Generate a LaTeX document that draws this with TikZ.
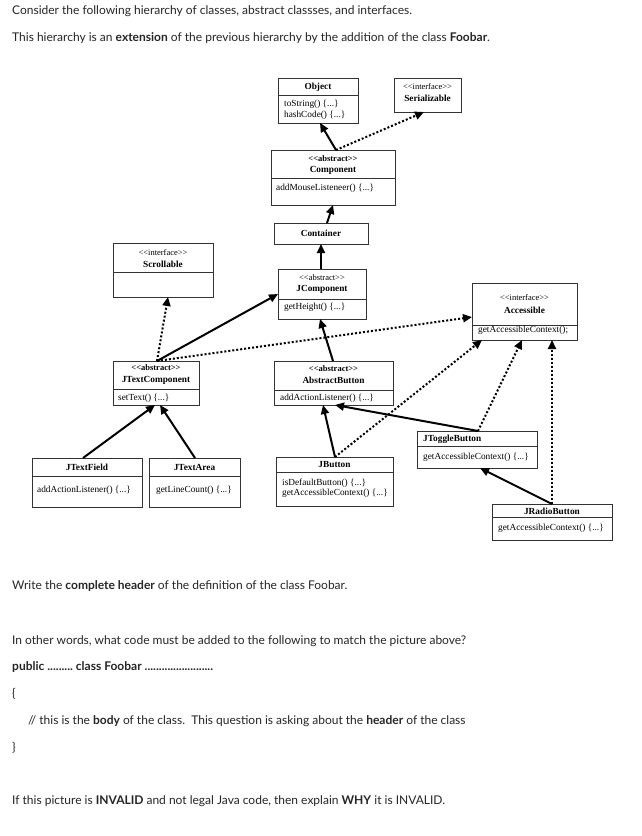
\documentclass[tikz,border=0pt]{standalone}
\usepackage{fontspec}
\setmainfont{Lato}
\newfontfamily\uml[Ligatures=TeXOff]{Liberation Serif}
\usetikzlibrary{arrows.meta,calc}
\tikzset{
 box/.style={draw=black!80, line width=0.8pt, inner sep=0pt, outer sep=0pt, anchor=north west},
 divline/.style={draw=black!80, line width=0.8pt},
 lbl/.style={inner sep=0pt, anchor=west, font=\uml\fontsize{9.3}{10}\selectfont},
 ttl/.style={inner sep=0pt, font=\uml\bfseries\fontsize{9.3}{10}\selectfont},
 ster/.style={inner sep=0pt, font=\uml\fontsize{8.5}{9}\selectfont},
 bster/.style={inner sep=0pt, font=\uml\bfseries\fontsize{8.5}{9}\selectfont},
 inh/.style={line width=2pt, -{Triangle[length=9pt,width=8pt]}},
 impl/.style={line width=2pt, dash pattern=on 2pt off 2pt, -{Triangle[length=9pt,width=8pt]}},
 body/.style={inner sep=0pt, anchor=base west, text=black!85, font=\fontsize{12}{14}\selectfont},
}
\newcommand\umlbox[5]{\node[box, minimum width={#4pt-#2pt}, minimum height={#5pt-#3pt}] (#1) at (#2,#3) {};}
\newcommand\umldiv[3]{\draw[divline] (#1,#3) -- (#2,#3);}
\begin{document}
\begin{tikzpicture}[x=1pt,y=-1pt]
\useasboundingbox[fill=white] (0,0) rectangle (642,836);

% Boxes
\umlbox{obj}{278}{78}{358}{123}\umldiv{278}{358}{95}
\node[ttl] (objt) at (318,87) {Object};
\node[lbl] (objm1) at (284,104) {toString() \{...\}};
\node[lbl] (objm2) at (284,115) {hashCode() \{...\}};

\umlbox{ser}{394}{78}{461}{112}
\node[ster] (sers) at (427.5,87) {<<interface>>};
\node[ttl] (sert) at (427.5,98) {Serializable};

\umlbox{comp}{271}{150}{395}{205}\umldiv{271}{395}{178}
\node[bster] (comps) at (333,159) {<<abstract>>};
\node[ttl] (compt) at (333,170) {Component};
\node[lbl] (compm) at (276,188) {addMouseListeneer() \{...\}};

\umlbox{cont}{274}{223}{368}{244}
\node[ttl] (contt) at (321,233) {Container};

\umlbox{scr}{113}{243}{213}{297}\umldiv{113}{213}{272}
\node[ster] (scrs) at (163,253) {<<interface>>};
\node[ttl] (scrt) at (163,264) {Scrollable};

\umlbox{jcomp}{278}{269}{366}{319}\umldiv{278}{366}{299}
\node[ster] (jcomps) at (322,278) {<<abstract>>};
\node[ttl] (jcompt) at (322,289) {JComponent};
\node[lbl] (jcompm) at (284,307) {getHeight() \{...\}};

\umlbox{acc}{472}{283}{577}{340}\umldiv{472}{577}{325}
\node[ster] (accs) at (524.5,298) {<<interface>>};
\node[ttl] (acct) at (524.5,310) {Accessible};
\node[lbl] (accm) at (478,330.5) {getAccessibleContext();};

\umlbox{jtc}{113}{361}{199}{405}\umldiv{113}{199}{389}
\node[bster] (jtcs) at (156,368) {<<abstract>>};
\node[ttl] (jtct) at (156,380) {JTextComponent};
\node[lbl] (jtcm) at (118,398) {setText() \{...\}};

\umlbox{ab}{274}{361}{393}{405}\umldiv{274}{393}{390}
\node[bster] (abs) at (333.5,369) {<<abstract>>};
\node[ttl] (abt) at (333.5,380) {AbstractButton};
\node[lbl] (abm) at (280,398) {addActionListener() \{...\}};

\umlbox{jtb}{417}{431}{537}{468}\umldiv{417}{537}{446}
\node[ttl, anchor=west] (jtbt) at (423,439.5) {JToggleButton};
\node[lbl] (jtbm) at (423,457) {getAccessibleContext() \{...\}};

\umlbox{jtf}{32}{458}{142}{507}\umldiv{32}{142}{476}
\node[ttl] (jtft) at (87,467) {JTextField};
\node[lbl] (jtfm) at (37,490) {addActionListener() \{...\}};

\umlbox{jta}{149}{458}{240}{507}\umldiv{149}{240}{476}
\node[ttl] (jtat) at (194.5,467) {JTextArea};
\node[lbl] (jtam) at (156,490) {getLineCount() \{...\}};

\umlbox{jb}{276}{457}{393}{506}\umldiv{276}{393}{472}
\node[ttl] (jbt) at (334.5,465) {JButton};
\node[lbl] (jbm1) at (282,483) {isDefaultButton() \{...\}};
\node[lbl] (jbm2) at (282,493) {getAccessibleContext() \{...\}};

\umlbox{jrb}{492}{504}{612}{540}\umldiv{492}{612}{517}
\node[ttl] (jrbt) at (552,511) {JRadioButton};
\node[lbl] (jrbm) at (498,528) {getAccessibleContext() \{...\}};

% Connectors
\draw[inh] ($(comp.north west)+(65,0)$) -- ($(obj.south west)+(42,0)$);
\draw[impl] ($(comp.north west)+(65,0)$) -- ($(ser.south west)+(30,0)$);
\draw[inh] ($(cont.north west)+(53,0)$) -- ($(comp.south west)+(62,0)$);
\draw[inh] ($(jcomp.north west)+(43,0)$) -- ($(cont.south west)+(47,0)$);
\draw[impl] ($(jtc.north west)+(44,0)$) -- ($(scr.south west)+(55,0)$);
\draw[inh] ($(jtc.north west)+(44,0)$) -- ($(jcomp.north west)+(0,25)$);
\draw[impl] ($(jtc.north west)+(44,0)$) -- ($(acc.north west)+(0,34)$);
\draw[inh] ($(ab.north west)+(59,0)$) -- ($(jcomp.south west)+(42,0)$);
\draw[inh] ($(jtf.north west)+(51,0)$) -- ($(jtc.south west)+(42,0)$);
\draw[inh] ($(jta.north west)+(46,0)$) -- ($(jtc.south west)+(47,0)$);
\draw[inh] ($(jb.north west)+(59,0)$) -- ($(ab.south west)+(49,0)$);
\draw[impl] ($(jb.north west)+(59,0)$) -- ($(acc.south west)+(10,0)$);
\draw[inh] ($(jtb.north west)+(61,0)$) -- ($(ab.south west)+(61,0)$);
\draw[impl] ($(jtb.north west)+(61,0)$) -- ($(acc.south west)+(50,0)$);
\draw[inh] ($(jrb.north west)+(60,0)$) -- ($(jtb.south west)+(63,0)$);
\draw[impl] ($(jrb.north west)+(60,0)$) -- ($(acc.south west)+(80,0)$);

% Body text
\node[body] (t1) at (12,14) {Consider the following hierarchy of classes, abstract classses, and interfaces.};
\node[body] (t2) at (12,41.5) {This hierarchy is an \textbf{extension} of the previous hierarchy by the addition of the class \textbf{Foobar}.};
\node[body] (t3) at (12,589) {Write the \textbf{complete header} of the definition of the class Foobar.};
\node[body] (t4) at (12,644) {In other words, what code must be added to the following to match the picture above?};
\node[body] (t5) at (12,670) {\textbf{public .........\ class Foobar ........................}};
\node[body] (t6) at (12,697) {\{};
\node[body] (t7) at (28,724) {// this is the \textbf{body} of the class.\ \ This question is asking about the \textbf{header} of the class};
\node[body] (t8) at (12,751) {\}};
\node[body] (t9) at (12,804) {If this picture is \textbf{INVALID} and not legal Java code, then explain \textbf{WHY} it is INVALID.};
\end{tikzpicture}
\end{document}
